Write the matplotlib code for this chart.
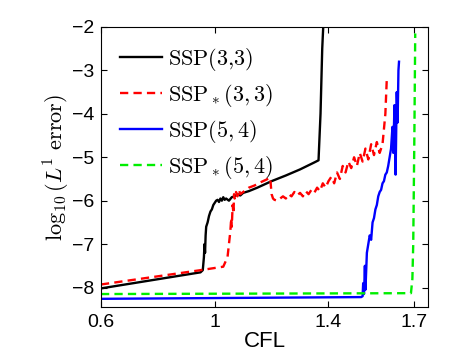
import matplotlib
matplotlib.use('Agg')
import matplotlib.pyplot as plt

plt.rcParams['mathtext.fontset'] = 'cm'
plt.rcParams['font.family'] = ['Liberation Sans', 'DejaVu Sans']

# SSP(3,3)
x_ssp33 = [0.6, 0.95, 0.958, 0.962, 0.964, 0.966, 0.968, 0.97, 0.975, 0.98, 0.985, 0.99,
           0.995, 1.0, 1.005, 1.01, 1.015, 1.02, 1.025, 1.03, 1.035, 1.04, 1.05, 1.06, 1.07,
           1.08, 1.09, 1.1, 1.12, 1.15, 1.2, 1.25, 1.3, 1.35, 1.365, 1.372, 1.378, 1.385]
y_ssp33 = [-8.02, -7.65, -7.6, -7.3, -7.0, -7.2, -6.8, -6.6, -6.5, -6.35, -6.25, -6.2,
           -6.1, -6.05, -6.0, -5.98, -6.03, -5.95, -6.0, -5.92, -5.98, -5.95, -6.0, -5.92, -5.9,
           -5.85, -5.88, -5.82, -5.78, -5.7, -5.55, -5.42, -5.28, -5.12, -5.07, -4.0, -2.5, -1.5]

# SSP*(3,3)
x_sspst33 = [0.6, 0.95, 1.03, 1.045, 1.05, 1.055, 1.058, 1.06, 1.063, 1.066, 1.068, 1.07,
             1.075, 1.08, 1.085, 1.09, 1.1, 1.11, 1.12, 1.14, 1.16, 1.18, 1.195, 1.2, 1.205,
             1.21, 1.22, 1.23, 1.24, 1.25, 1.26, 1.27, 1.28, 1.29, 1.3, 1.31, 1.32, 1.33,
             1.34, 1.35, 1.36, 1.37, 1.38, 1.39, 1.4, 1.41, 1.42, 1.43, 1.44, 1.45, 1.46,
             1.47, 1.48, 1.49, 1.5, 1.51, 1.52, 1.53, 1.54, 1.55, 1.56, 1.57, 1.58, 1.59,
             1.6, 1.605]
y_sspst33 = [-7.93, -7.6, -7.52, -7.3, -7.0, -6.7, -6.4, -6.6, -6.1, -6.3, -5.85, -5.95,
             -5.8, -5.9, -5.75, -5.85, -5.8, -5.75, -5.7, -5.65, -5.58, -5.52, -5.47, -5.85,
             -5.95, -5.98, -6.0, -5.95, -5.9, -5.95, -5.85, -5.9, -5.8, -5.88, -5.82, -5.9,
             -5.78, -5.85, -5.75, -5.82, -5.7, -5.78, -5.6, -5.7, -5.55, -5.45, -5.6, -5.35,
             -5.5, -5.2, -5.35, -5.1, -5.25, -5.0, -5.2, -4.9, -5.1, -4.8, -5.05, -4.7,
             -4.95, -4.65, -4.9, -4.7, -4.0, -3.2]

# SSP(5,4)
x_ssp54 = [0.6, 1.515, 1.52, 1.522, 1.525, 1.528, 1.53, 1.535, 1.54, 1.545, 1.55, 1.555,
           1.56, 1.565, 1.57, 1.575, 1.58, 1.585, 1.59, 1.595, 1.6, 1.605, 1.61, 1.615,
           1.62, 1.625, 1.628, 1.632, 1.636, 1.64, 1.643, 1.646, 1.648]
y_ssp54 = [-8.26, -8.22, -8.2, -7.9, -8.15, -7.5, -8.05, -7.2, -7.0, -6.8, -6.9, -6.5,
           -6.4, -6.2, -6.1, -5.9, -5.8, -5.75, -5.6, -5.55, -5.4, -5.35, -5.2, -5.0,
           -4.8, -4.3, -4.9, -3.8, -5.4, -3.5, -4.2, -3.0, -2.8]

# SSP*(5,4)
x_sspst54 = [0.6, 1.69, 1.695, 1.698, 1.702, 1.705]
y_sspst54 = [-8.15, -8.13, -7.8, -7.0, -4.5, -2.15]

labels = [r'$\mathrm{SSP}(3{,}3)$', r'$\mathrm{SSP}_*(3,3)$',
          r'$\mathrm{SSP}(5,4)$', r'$\mathrm{SSP}_*(5,4)$']

fig = plt.figure(figsize=(4.74, 3.55), dpi=100)
ax = fig.add_axes([0.213, 0.135, 0.69, 0.789])

dash = (0, (3.5, 2.2))
ax.plot(x_ssp33, y_ssp33, color='black', lw=1.7, label=labels[0])
ax.plot(x_sspst33, y_sspst33, color='#ff0000', lw=1.7, ls=dash, label=labels[1])
ax.plot(x_ssp54, y_ssp54, color='#0000ff', lw=1.7, label=labels[2])
ax.plot(x_sspst54, y_sspst54, color='#00ee00', lw=1.7, ls=dash, label=labels[3])

ax.set_xlim(0.6, 1.75)
ax.set_ylim(-8.45, -2)
ax.set_xticks([0.6, 1, 1.4, 1.7])
ax.set_xticklabels(['0.6', '1', '1.4', '1.7'])
ax.set_yticks([-8, -7, -6, -5, -4, -3, -2])
ax.tick_params(direction='in', top=True, right=True, labelsize=14, length=4, pad=5)
for s in ax.spines.values():
    s.set_linewidth(0.8)

ax.set_xlabel('CFL', fontsize=16, labelpad=0)
ax.set_ylabel(r'$\log_{10}(L^1\ \mathrm{error})$', fontsize=16, labelpad=0)

ax.legend(loc='upper left', frameon=False, fontsize=16, handlelength=1.9,
          handletextpad=0.25, labelspacing=0.4, borderaxespad=0.5, borderpad=0.35)

fig.savefig('out.png', dpi=100)
